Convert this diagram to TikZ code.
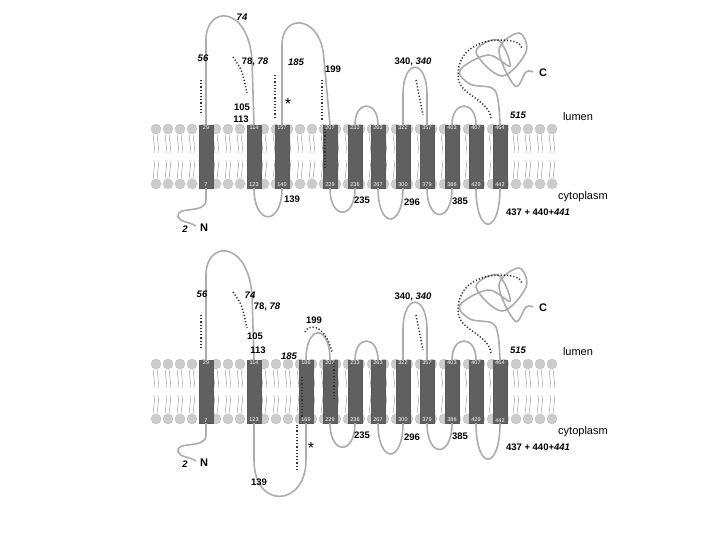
\documentclass[tikz,border=0pt]{standalone}
\usepackage{fontspec}
\setmainfont{Liberation Sans}
\begin{document}
\begin{tikzpicture}[x=1pt, y=-1pt,
   helix/.style = {draw=gray!70!black, fill=gray!75!black, minimum width=14pt, minimum height=63pt, inner sep=0pt},
   hnum/.style  = {text=white, font=\fontsize{5.5}{6}\selectfont, inner sep=1pt},
   head/.style  = {fill=gray!40, draw=gray!50},
   tail/.style  = {draw=gray!60, line width=0.6pt},
   chain/.style = {draw=gray!65, line width=1.6pt},
   dots/.style  = {draw=black!80, line width=1.5pt, dash pattern=on 1.2pt off 2pt},
   num/.style   = {font=\bfseries\fontsize{9.5}{11}\selectfont, inner sep=0pt},
   inum/.style  = {font=\bfseries\itshape\fontsize{9.5}{11}\selectfont, inner sep=0pt},
   side/.style  = {font=\fontsize{11}{13}\selectfont, inner sep=0pt}]
\useasboundingbox (0,0) rectangle (720,540);

\newcommand\helix[4]{%
   \node[helix] (#1) at (#2,156.5) {};
   \node[hnum, below] at (#1.north) {#3};
   \node[hnum, above] at (#1.south) {#4};}

% bilayer, shared helices, loops and labels
\newcommand\common{%
   \foreach \x in {156,168,...,552} {
      \draw[tail] (\x-2,134) .. controls (\x-4,140) and (\x,146) .. (\x-2,153);
      \draw[tail] (\x+2,134) .. controls (\x,140) and (\x+4,146) .. (\x+2,153);
      \draw[tail] (\x-2,160) .. controls (\x,167) and (\x-4,173) .. (\x-2,179);
      \draw[tail] (\x+2,160) .. controls (\x+4,167) and (\x,173) .. (\x+2,179);
      \filldraw[head] (\x,129) circle (5);
      \filldraw[head] (\x,184) circle (5);
   }
   \helix{h29}{206}{29}{7}
   \helix{h114}{254}{114}{123}
   \helix{h207}{330}{207}{229}
   \helix{h233}{355}{233}{236}
   \helix{h263}{378}{263}{267}
   \helix{h322}{403}{322}{300}
   \helix{h357}{427}{357}{379}
   \helix{h403}{452}{403}{386}
   \helix{h407}{476}{407}{429}
   \helix{h464}{500}{464}{442}
   \coordinate (nend) at (196,226);
   \coordinate (cend) at (533,72);
   \draw[chain] (h29.south) -- (206,200) .. controls (206,215) and (175,205) .. (178,217)
      .. controls (180,222) and (190,222) .. (nend);
   \draw[chain] (h29.north) -- (206,40) .. controls (206,5) and (248,5) .. (252,60) -- (h114.north);
   \draw[dots] (201,80) -- (201,113);
   \draw[dots] (233,57) .. controls (242,70) .. (247,93);
   \draw[chain] (h207.south) .. controls +(0,32) and +(0,32) .. (h233.south);
   \draw[chain] (h233.north) .. controls +(0,-25) and +(0,-25) .. (h263.north);
   \draw[chain] (h263.south) .. controls +(0,41) and +(0,41) .. (h322.south);
   \draw[chain] (h322.north) -- (403,95) .. controls (403,58) and (427,58) .. (427,95) -- (h357.north);
   \draw[dots] (416,80) -- (423,115);
   \draw[chain] (h357.south) .. controls +(0,35) and +(0,35) .. (h403.south);
   \draw[chain] (h403.north) .. controls +(0,-25) and +(0,-25) .. (h407.north);
   \draw[chain] (h407.south) .. controls +(0,48) and +(0,48) .. (h464.south);
   \draw[chain] plot[smooth, tension=0.6] coordinates {(h464.north) (498,100) (492,88)
      (470,84) (460,70) (488,55) (510,66) (498,40) (476,52) (502,76) (526,52) (519,33)
      (499,50) (515,86) (526,72) (cend)};
   \draw[dots] (491,118) .. controls (488,98) and (457,95) .. (458,75)
      .. controls (458,50) and (480,40) .. (500,40) .. controls (512,40) and (520,42) .. (522,48);
   \node[inum] at (185,229) {2};
   \node[num, font=\bfseries\fontsize{11}{13}\selectfont] at (204,228) {N};
   \node[num, font=\bfseries\fontsize{11}{13}\selectfont] at (543,73) {C};
   \node[num] at (362,200) {235};
   \node[num] at (412,202) {296};
   \node[num] at (460,201) {385};
   \node[num] at (413,62) {340, \textit{340}};
   \node[inum] at (518,115) {515};
   \node[num] at (538,212) {437 + 440+\textit{441}};
   \node[side] at (578,117) {lumen};
   \node[side] at (583,197) {cytoplasm};}

% upper panel
\common
\helix{h157}{282}{157}{140}
\draw[chain] (h114.south) .. controls +(0,38) and +(0,38) .. (h157.south);
\draw[chain] (h157.north) -- (282,45) .. controls (282,12) and (322,15) .. (324,60) -- (h207.north);
\draw[dots] (275,75) -- (275,118);
\draw[dots] (322,80) -- (322,120);
\draw[dots] (325,129) -- (325,168);
\node[inum] at (203,58) {56};
\node[inum] at (242,17) {74};
\node[num] at (255,62) {78, \textit{78}};
\node[num] at (242,107) {105};
\node[num] at (241,119) {113};
\node[num] at (292,199) {139};
\node[inum] at (296,62) {185};
\node[num] at (333,69) {199};
\node[font=\fontsize{16}{16}\selectfont] at (288,104) {*};

% lower panel
\begin{scope}[yshift=-235pt]
\common
\helix{h186}{306}{186}{169}
\draw[chain] (h114.south) -- (254,225) .. controls (254,275) and (306,272) .. (306,225) -- (h186.south);
\draw[chain] (h186.north) .. controls +(0,-36) and +(0,-36) .. (h207.north);
\draw[dots] (297,235) -- (297,190);
\draw[dots] (302,142) -- (302,182);
\draw[dots] (305,97) .. controls (307,90) and (324,86) .. (332,117);
\draw[dots] (334,128) -- (334,165);
\node[inum] at (202,59) {56};
\node[inum] at (250,60) {74};
\node[num] at (267,72) {78, \textit{78}};
\node[num] at (255,101) {105};
\node[num] at (258,115) {113};
\node[num] at (259,247) {139};
\node[inum] at (289,121) {185};
\node[num] at (314,85) {199};
\node[font=\fontsize{16}{16}\selectfont] at (311,213) {*};
\end{scope}
\end{tikzpicture}
\end{document}
